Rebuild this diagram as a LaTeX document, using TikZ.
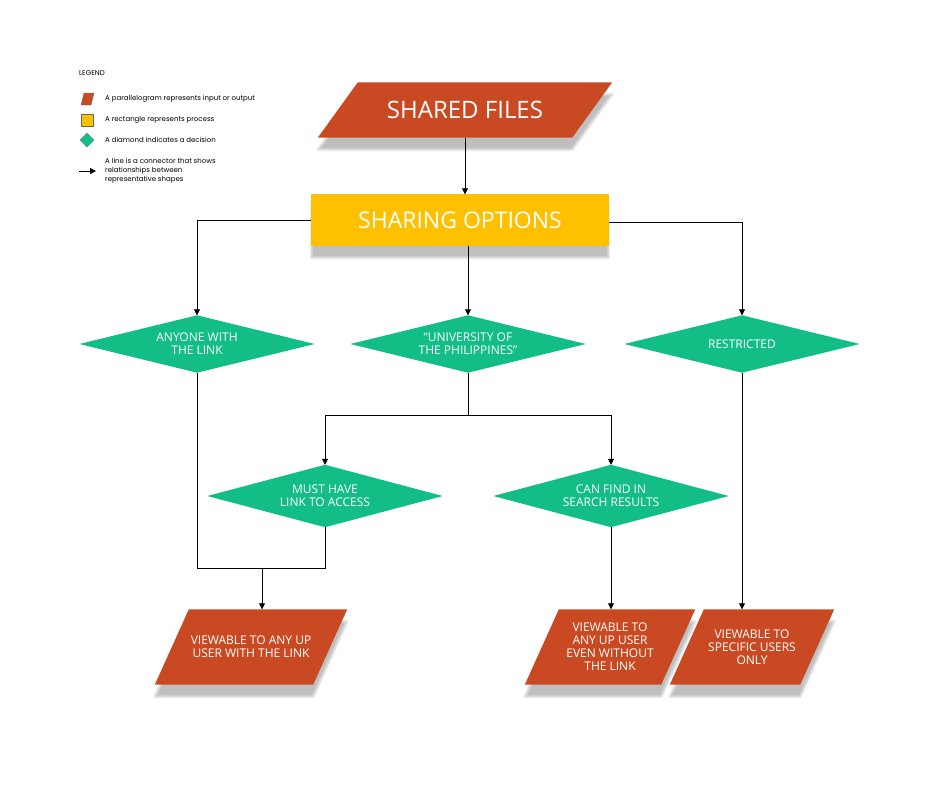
\documentclass[tikz,border=0pt]{standalone}
\usepackage{fontspec}
\setmainfont{Open Sans}
\newfontfamily\legfont{Poppins}
\usetikzlibrary{shadows.blur,arrows.meta,calc}
\definecolor{rust}{HTML}{C94A22}
\definecolor{gold}{HTML}{FFC000}
\definecolor{teal}{HTML}{12BE85}
\begin{document}
\begin{tikzpicture}[x=1pt,y=-1pt,
  box/.style={inner sep=0,align=center,text=white,font=\fontsize{12}{13}\selectfont},
  shad/.style={blur shadow={shadow xshift=0pt,shadow yshift=-12pt,shadow opacity=25,shadow blur steps=8}},
  conn/.style={thick,black},
  arr/.style={conn,-{Triangle[length=6pt,width=6pt]}},
  legtxt/.style={anchor=west,inner sep=0,font=\legfont\fontsize{7}{9}\selectfont,align=left}]
\useasboundingbox (0,0) rectangle (940,788);
% nodes
\node[box,minimum width=254,minimum height=55,font=\fontsize{24}{26}\selectfont] (shared) at (465,110) {SHARED FILES};
\node[box,minimum width=297,minimum height=51,font=\fontsize{23}{25}\selectfont] (opts) at (460,220) {SHARING OPTIONS};
\node[box,minimum width=235,minimum height=57] (any) at (197,344) {ANYONE WITH\\THE LINK};
\node[box,minimum width=235,minimum height=57] (up) at (468,344) {``UNIVERSITY OF\\THE PHILIPPINES''};
\node[box,minimum width=235,minimum height=57] (res) at (742,344) {RESTRICTED};
\node[box,minimum width=235,minimum height=62] (must) at (325,496) {MUST HAVE\\LINK TO ACCESS};
\node[box,minimum width=235,minimum height=62] (find) at (611,496) {CAN FIND IN\\SEARCH RESULTS};
\node[box,minimum width=158,minimum height=75] (o1) at (251,647) {VIEWABLE TO ANY UP\\USER WITH THE  LINK};
\node[box,minimum width=136,minimum height=75] (o2) at (610,647) {VIEWABLE TO\\ANY UP USER\\EVEN WITHOUT\\THE LINK};
\node[box,minimum width=130,minimum height=75] (o3) at (752,647) {VIEWABLE TO\\SPECIFIC USERS\\ONLY};
% shapes
\begin{scope}[on background layer/.style={}]
\fill[rust,shad] ([xshift=20]shared.north west) -- ([xshift=20]shared.north east) -- ([xshift=-20]shared.south east) -- ([xshift=-20]shared.south west) -- cycle;
\fill[gold,shad] (opts.north west) rectangle (opts.south east);
\foreach \n in {any,up,res,must,find}{
  \fill[teal] (\n.north) -- (\n.east) -- (\n.south) -- (\n.west) -- cycle;}
\foreach \n in {o1,o2,o3}{
  \fill[rust,shad] ([xshift=17]\n.north west) -- ([xshift=17]\n.north east) -- ([xshift=-17]\n.south east) -- ([xshift=-17]\n.south west) -- cycle;}
\end{scope}
% redraw texts on top
\node[box,font=\fontsize{24}{26}\selectfont] at (shared) {SHARED FILES};
\node[box,font=\fontsize{23}{25}\selectfont] at (opts) {SHARING OPTIONS};
\foreach \n/\t in {any/{ANYONE WITH\\THE LINK},up/{``UNIVERSITY OF\\THE PHILIPPINES''},res/{RESTRICTED},must/{MUST HAVE\\LINK TO ACCESS},find/{CAN FIND IN\\SEARCH RESULTS},o1/{VIEWABLE TO ANY UP\\USER WITH THE  LINK},o2/{VIEWABLE TO\\ANY UP USER\\EVEN WITHOUT\\THE LINK},o3/{VIEWABLE TO\\SPECIFIC USERS\\ONLY}}
  {\node[box] at (\n) {\t};}
% connectors
\draw[arr] (shared.south) -- (opts.north -| shared.south);
\draw[arr] (opts.west) -| (any.north);
\draw[arr] (opts.south -| up.north) -- (up.north);
\draw[arr] ([yshift=-2]opts.east) -| (res.north);
\coordinate (split) at ($(up.south)+(0,43)$);
\draw[conn] (up.south) -- (split);
\draw[arr] (split) -| (must.north);
\draw[arr] (split) -| (find.north);
\coordinate (join) at (262,568);
\draw[conn] (any.south) |- (join);
\draw[conn] (must.south) |- (join);
\draw[arr] (join) -- (o1.north -| join);
\draw[arr] (find.south) -- (o2.north -| find.south);
\draw[arr] (res.south) -- (o3.north -| res.south);
% legend
\node[legtxt] (lg) at (79,73) {LEGEND};
\coordinate (l1) at (87,99);
\fill[rust,draw=black!60,line width=0.3] ($(l1)+(-6,6)$) -- ($(l1)+(-3,-6)$) -- ($(l1)+(7,-6)$) -- ($(l1)+(4,6)$) -- cycle;
\node[legtxt] (lt1) at (105,99) {A parallelogram represents input or output};
\coordinate (l2) at (87,120);
\fill[gold,draw=black!60,line width=0.3] ($(l2)+(-6,-6)$) rectangle ($(l2)+(6,6)$);
\node[legtxt] (lt2) at (105,120) {A rectangle represents process};
\coordinate (l3) at (87,140);
\fill[teal,draw=black!60,line width=0.3] ($(l3)+(0,-7)$) -- ($(l3)+(7,0)$) -- ($(l3)+(0,7)$) -- ($(l3)+(-7,0)$) -- cycle;
\node[legtxt] (lt3) at (105,140) {A diamond indicates a decision};
\coordinate (l4a) at (79,171);
\coordinate (l4b) at (96,171);
\draw[arr] (l4a) -- (l4b);
\node[legtxt] (lt4) at (105,171) {A line is a connector that shows\\relationships between\\representative shapes};
\end{tikzpicture}
\end{document}
